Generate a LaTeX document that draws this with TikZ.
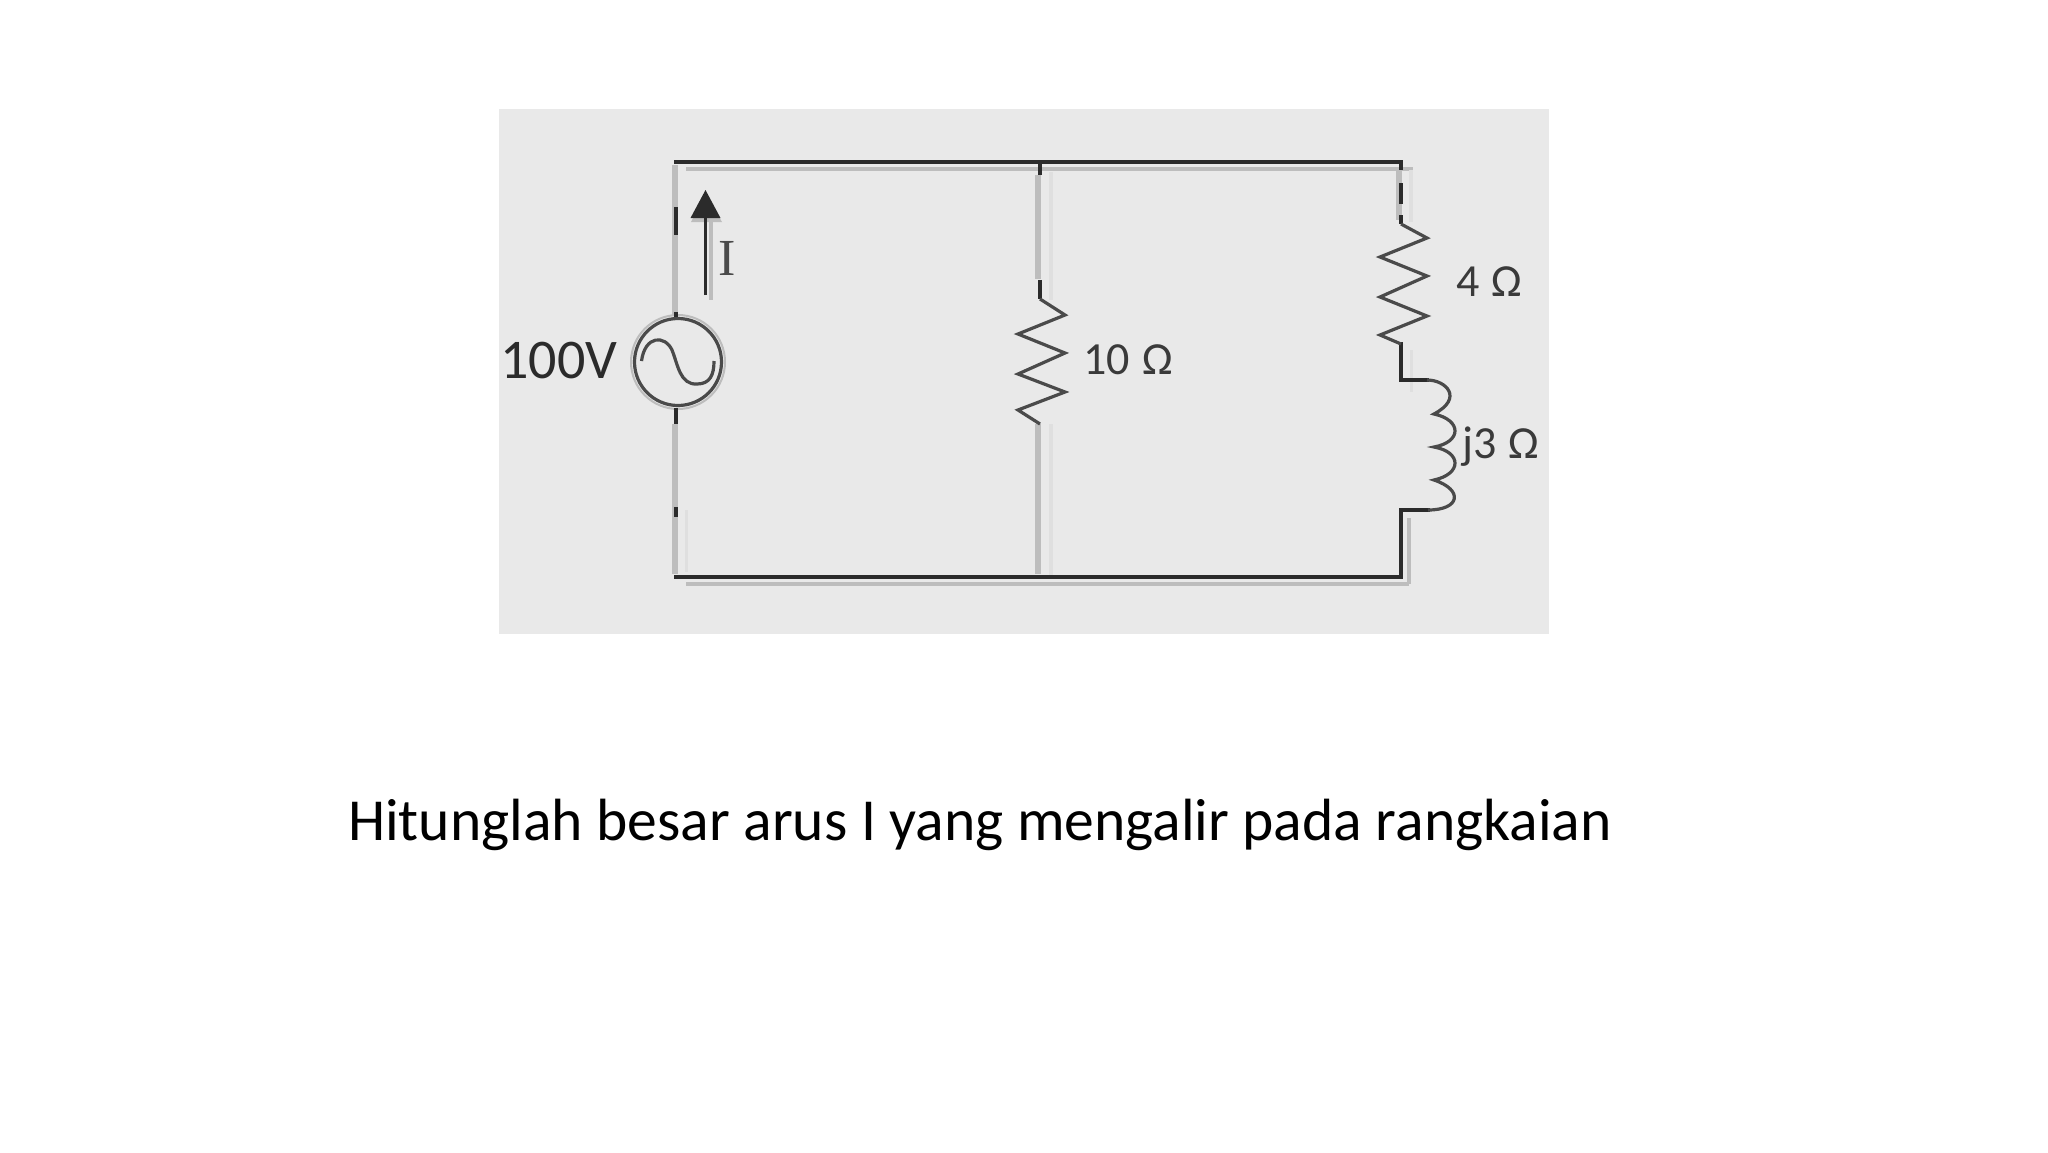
\documentclass[tikz,border=0pt]{standalone}
\usepackage{fontspec}
\setmainfont{Carlito}
\newfontfamily\serifI{Liberation Serif}
\usetikzlibrary{arrows.meta}
\definecolor{panel}{HTML}{E9E9E9}
\definecolor{ghost}{HTML}{BDBDBD}
\definecolor{faint}{HTML}{DFDFDF}
\definecolor{ink}{HTML}{2B2B2B}
\definecolor{soft}{HTML}{4A4A4A}
\definecolor{labelink}{HTML}{3A3A3A}
\tikzset{
  wire/.style={draw=ink,line width=3.6pt,line cap=rect,line join=miter},
  ghostwire/.style={draw=ghost,line width=3.4pt},
  thickghost/.style={draw=ghost,line width=6pt},
  faintwire/.style={draw=faint,line width=4pt},
  zig/.style={draw=soft,line width=3.2pt,line join=miter},
  coil/.style={draw=soft,line width=3.2pt},
  lab/.style={text=labelink,inner sep=0pt,font=\fontsize{46}{50}\selectfont},
}
\begin{document}
\begin{tikzpicture}[x=1pt,y=-1pt]
\useasboundingbox (0,0) rectangle (2048,1152);
\fill[white] (0,0) rectangle (2048,1152);
\fill[panel] (499,109) rectangle (1549,634);
% junctions
\coordinate (tl) at (676,162);
\coordinate (tm) at (1040,162);
\coordinate (tr) at (1401,162);
\coordinate (bl) at (676,577);
\coordinate (bm) at (1040,577);
\coordinate (br) at (1401,577);
\coordinate (r1a) at (1040,299);
\coordinate (r1b) at (1040,424);
\coordinate (r2a) at (1401,224);
\coordinate (r2b) at (1401,344);
\coordinate (lk) at (1401,380);
\coordinate (lj) at (1401,510);
\coordinate (arrT) at (705.5,190);
\coordinate (arrB) at (705.5,295);
\coordinate (srcT) at (676,317);
\coordinate (srcB) at (676,408);
% ghost lines
\draw[ghostwire] (686,169) -- (1413,169);
\draw[ghostwire] (686,584) -- (1409,584);
\draw[ghostwire] (1409,518) -- (1409,584);
\draw[faintwire] (1051,172) -- (1051,300);
\draw[faintwire] (1051,424) -- (1051,575);
\draw[faintwire] (1411,170) -- (1411,222);
\draw[faintwire,line width=3pt] (1411,350) -- (1411,392);
\draw[faintwire,line width=3pt] (686,510) -- (686,572);
\draw[ghostwire] (711,222) -- (711,300);
\fill[ghost] (691,222) -- (722,222) -- (712,205) -- (700,205) -- cycle;
% pale wire bodies
\draw[thickghost] (674.5,165) -- (674.5,316);
\draw[thickghost] (674.5,424) -- (674.5,574);
\draw[thickghost] (1038,175) -- (1038,279);
\draw[thickghost] (1038,424) -- (1038,574);
\draw[thickghost] (1399,168) -- (1399,220);
% source
\node[circle,draw=ghost,line width=2pt,minimum size=94pt,inner sep=0pt,fill=none] (srcghost) at (678,362) {};
\node[circle,draw=soft,line width=3.2pt,minimum size=87pt,inner sep=0pt,fill=none] (src) at (678,362) {};
\draw[coil] (641.5,361) .. controls (645,335) and (665,335) .. (672,350) .. controls (678,365) and (680,385) .. (697,384) .. controls (710,384) and (714,375) .. (714,361);
% black wires
\draw[wire] (tl) -- (tm) -- (tr);
\draw[wire] (bl) -- (bm) -- (br);
\draw[wire,line cap=butt] (676,207) -- (676,235);
\draw[wire,line cap=butt] (srcB) -- (676,424);
\draw[wire,line cap=butt] (676,507) -- (676,517);
\draw[wire,line cap=butt] (676,312) -- (srcT);
\draw[wire,line cap=butt] (tm) -- (1040,175);
\draw[wire,line cap=butt] (1040,280) -- (1040,299);
\draw[wire,line cap=butt] (tr) -- (1401,170);
\draw[wire,line cap=butt] (1401,183) -- (1401,204);
\draw[wire,line cap=butt] (1401,215) -- (r2a);
\draw[wire] (r2b) -- (lk) -- (1427,380);
\draw[wire] (br) -- (lj) -- (1428,510);
% resistors
\draw[zig] (r1a) -- (1065,315) -- (1018,334) -- (1065,353) -- (1018,374) -- (1065,392) -- (1018,410) -- (r1b);
\draw[zig] (r2a) -- (1427,238) -- (1380,257) -- (1427,276) -- (1380,297) -- (1427,316) -- (1380,335) -- (r2b);
% inductor
\draw[coil] (1427,380) .. controls (1446,380) and (1464,398) .. (1434,414)
  .. controls (1462,420) and (1462,442) .. (1434,447)
  .. controls (1462,452) and (1462,474) .. (1434,480)
  .. controls (1464,490) and (1460,510) .. (1428,510);
% current arrow
\draw[wire,line cap=butt] (arrB) -- (705.5,215);
\fill[ink] (arrT) -- (720.5,218) -- (690.5,218) -- cycle;
% labels
\node[text=ink,inner sep=0pt,font=\fontsize{56}{60}\selectfont] (v) at (559,361) {100V};
\node[text=soft,inner sep=0pt,font=\serifI\fontsize{52}{56}\selectfont] (i) at (727,258) {I};
\node[lab] (ten) at (1128,360) {10\hspace{12pt}Ω};
\node[lab] (four) at (1489,282) {4\hspace{12pt}Ω};
\node[lab] (j3) at (1501,447) {j3\hspace{12pt}Ω};
\node[anchor=base west,inner sep=0pt,text=black,font=\fontsize{59.6}{62}\selectfont] (q) at (348,840) {Hitunglah besar arus I yang mengalir pada rangkaian};
\end{tikzpicture}
\end{document}
